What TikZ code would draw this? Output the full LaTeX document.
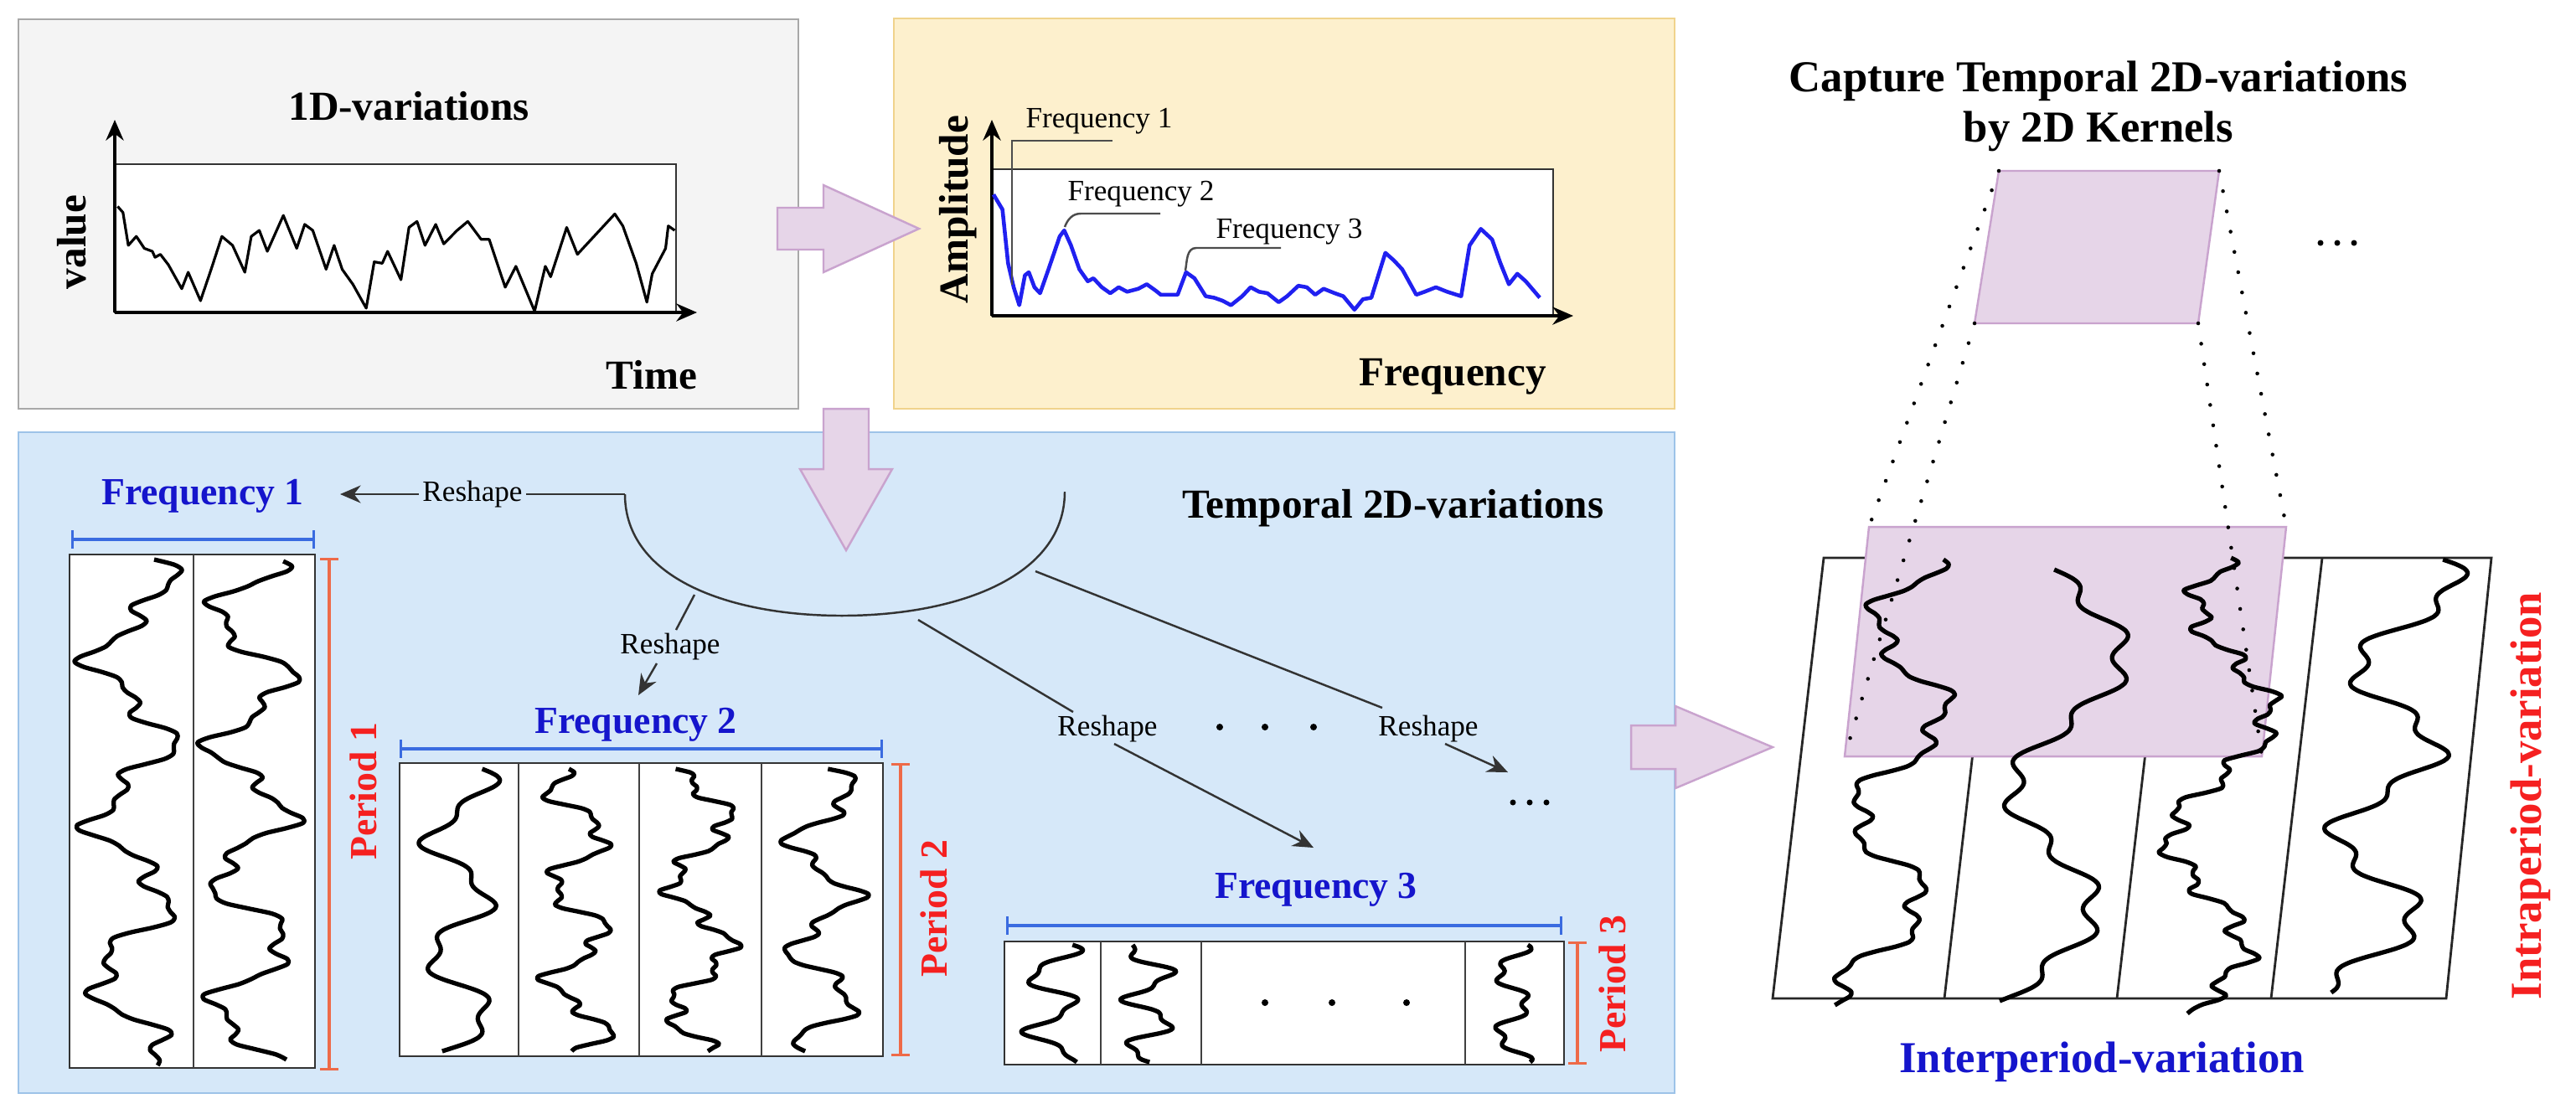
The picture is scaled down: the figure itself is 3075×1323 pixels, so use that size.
\documentclass[tikz,border=0pt]{standalone}
\usepackage{fontspec}
\setmainfont{Liberation Serif}
\usetikzlibrary{arrows.meta}
\definecolor{grayfill}{HTML}{F4F4F4}
\definecolor{grayline}{HTML}{A8A8A8}
\definecolor{yelfill}{HTML}{FDF0CD}
\definecolor{yelline}{HTML}{F0D38C}
\definecolor{bluefill}{HTML}{D6E8F9}
\definecolor{blueline}{HTML}{9DC3E8}
\definecolor{purfill}{HTML}{E6D5E8}
\definecolor{purline}{HTML}{C9A3CE}
\definecolor{txtblue}{HTML}{1515CC}
\definecolor{txtred}{HTML}{F52020}
\definecolor{barblue}{HTML}{3A6BE0}
\definecolor{barred}{HTML}{EE6A48}
\definecolor{curveblue}{HTML}{2020F0}
\tikzset{
  panel/.style={line width=0.7pt},
  frame/.style={draw=black!80,line width=0.8pt,fill=white},
  wave/.style={line width=1.5pt,line join=round,smooth},
  bigarrow/.style={fill=purfill,draw=purline,line width=0.7pt},
  lbl/.style={font=\bfseries,inner sep=0pt},
  small/.style={font=\fontsize{10}{11}\selectfont,inner sep=1pt},
  conn/.style={line width=0.7pt,black!80},
  arr/.style={conn,-{Stealth[length=7pt,width=6pt]}},
  bbar/.style={barblue,line width=0.9pt,{Bar[width=6pt]}-{Bar[width=6pt]}},
  rbar/.style={barred,line width=0.9pt,{Bar[width=6pt]}-{Bar[width=6pt]}},
}
\begin{document}
\begin{tikzpicture}[x=0.01cm,y=-0.01cm]
\useasboundingbox (0,0) rectangle (3075,1323);
% ---------- panels ----------
\draw[panel,fill=grayfill,draw=grayline] (22,23) rectangle (953,488);
\draw[panel,fill=yelfill,draw=yelline] (1067,22) rectangle (1999,488);
\draw[panel,fill=bluefill,draw=blueline] (22,516) rectangle (1999,1305);
% ---------- big arrows ----------
\draw[bigarrow] (928,248) -- (983,248) -- (983,221) -- (1097,273) -- (983,325) -- (983,298) -- (928,298) -- cycle;
\draw[bigarrow] (983,488) -- (1037,488) -- (1037,560) -- (1065,560) -- (1010,657) -- (955,560) -- (983,560) -- cycle;
\draw[bigarrow] (1947,866) -- (2000,866) -- (2000,843) -- (2116,892) -- (2000,941) -- (2000,918) -- (1947,918) -- cycle;
% ---------- 1D variations ----------
\node[lbl,font=\bfseries\fontsize{14}{16}\selectfont] (t1d) at (488,127) {1D-variations};
\draw[frame] (137,196) rectangle (807,373);
\coordinate (o1) at (137,373);
\coordinate (y1) at (137,143);
\coordinate (x1) at (832,373);
\draw[line width=1.1pt,-{Stealth[length=7pt,width=6pt]}] (o1) -- (y1);
\draw[line width=1.1pt,-{Stealth[length=7pt,width=6pt]}] (o1) -- (x1);
\node[lbl,rotate=90,font=\bfseries\fontsize{14}{16}\selectfont] (val) at (86,289) {value};
\node[lbl,font=\bfseries\fontsize{14}{16}\selectfont] (time) at (778,448) {Time};
\begin{scope}[x=0.006378cm,y=-0.003571cm]
\draw[line width=0.9pt,line join=round] (220,690)--(230,710)--(240,820)--(255,790)--(270,830)--(285,840)--(290,860)--(300,850)--(315,885)--(340,965)--(352,910)--(375,1005)--(395,900)--(415,790)--(435,820)--(458,910)--(470,790)--(485,770)--(500,840)--(530,720)--(555,830)--(570,750)--(585,770)--(610,900)--(625,820)--(640,900)--(660,950)--(685,1030)--(700,875)--(715,880)--(725,840)--(750,935)--(765,760)--(780,740)--(795,820)--(815,750)--(830,815)--(855,770)--(875,740)--(900,800)--(915,800)--(945,960)--(965,890)--(1000,1040)--(1020,890)--(1030,925)--(1060,760)--(1080,850)--(1150,715)--(1165,755)--(1190,880)--(1210,1010)--(1220,915)--(1245,830)--(1250,755)--(1262,770);
\end{scope}
% ---------- Frequency spectrum ----------
\draw[frame] (1184,202) rectangle (1854,377);
\coordinate (o2) at (1184,377);
\coordinate (y2) at (1184,143);
\coordinate (x2) at (1878,377);
\draw[line width=1.1pt,-{Stealth[length=7pt,width=6pt]}] (o2) -- (y2);
\draw[line width=1.1pt,-{Stealth[length=7pt,width=6pt]}] (o2) -- (x2);
\node[lbl,rotate=90,font=\bfseries\fontsize{14}{16}\selectfont] (amp) at (1144,250) {Amplitude};
\node[lbl,font=\bfseries\fontsize{14}{16}\selectfont] (freq) at (1734,450) {Frequency};
\begin{scope}[shift={(950,0)},x=0.006697cm,y=-0.003571cm]
\draw[curveblue,line width=1.3pt,line join=round] (352,650)--(368,700)--(378,880)--(388,960)--(398,1020)--(408,920)--(415,910)--(425,960)--(435,980)--(450,900)--(470,790)--(478,770)--(490,820)--(505,900)--(520,940)--(530,930)--(545,960)--(560,980)--(575,960)--(590,975)--(610,965)--(625,950)--(640,970)--(650,985)--(680,985)--(695,910)--(710,930)--(730,990)--(745,995)--(760,1005)--(775,1020)--(795,990)--(810,960)--(825,975)--(840,980)--(860,1010)--(875,990)--(895,955)--(910,960)--(925,985)--(940,965)--(960,980)--(975,990)--(995,1035)--(1010,1000)--(1025,995)--(1050,845)--(1065,870)--(1080,900)--(1105,985)--(1120,975)--(1140,960)--(1160,975)--(1185,990)--(1200,820)--(1220,765)--(1240,800)--(1255,880)--(1270,950)--(1285,915)--(1300,940)--(1325,995);
\end{scope}
\node[small] (f1) at (1312,145) {Frequency 1};
\node[small] (f2) at (1362,232) {Frequency 2};
\node[small] (f3) at (1539,277) {Frequency 3};
\coordinate (f1a) at (1208,340);
\coordinate (f1b) at (1208,168);
\coordinate (f1c) at (1328,168);
\draw[conn,black!70] (f1a) -- (f1b) -- (f1c);
\coordinate (f2a) at (1271,271);
\coordinate (f2b) at (1290,255);
\coordinate (f2c) at (1385,255);
\draw[conn,black!70] (f2a) to[out=70,in=180] (f2b) -- (f2c);
\coordinate (f3a) at (1415,323);
\coordinate (f3b) at (1428,296);
\coordinate (f3c) at (1529,296);
\draw[conn,black!70] (f3a) to[out=80,in=180] (f3b) -- (f3c);
% ---------- Temporal 2D variations ----------
\node[lbl,font=\bfseries\fontsize{14}{16}\selectfont] (t2d) at (1663,607) {Temporal 2D-variations};
\coordinate (arcL) at (746,590);
\coordinate (arcB) at (1005,735);
\coordinate (arcR) at (1271,587);
\draw[conn] (arcL) .. controls (746,690) and (870,735) .. (arcB) .. controls (1140,735) and (1271,690) .. (arcR);
% reshape 1
\node[small] (r1) at (564,590) {Reshape};
\coordinate (r1t) at (406,590);
\draw[conn] (arcL) -- (r1.east);
\draw[arr] (r1.west) -- (r1t);
% reshape 2
\coordinate (r2s) at (829,710);
\node[small] (r2) at (800,772) {Reshape};
\coordinate (r2t) at (762,830);
\draw[conn] (r2s) -- (807,752);
\draw[arr] (784,792) -- (r2t);
% reshape 3
\coordinate (r3s) at (1096,740);
\node[small] (r3) at (1322,870) {Reshape};
\coordinate (r3t) at (1568,1012);
\draw[conn] (r3s) -- (1281,850);
\draw[arr] (1330,888) -- (r3t);
% reshape 4
\coordinate (r4s) at (1236,682);
\node[small] (r4) at (1705,870) {Reshape};
\coordinate (r4t) at (1800,922);
\draw[conn] (r4s) -- (1650,845);
\draw[arr] (1725,888) -- (r4t);
\foreach \x in {1456,1510,1568} \fill (\x,868) circle (4);
\foreach \x in {1806,1826,1846} \fill (\x,958) circle (3.5);
% Frequency 1 block
\node[lbl,txtblue,font=\bfseries\fontsize{13}{15}\selectfont] (F1) at (242,592) {Frequency 1};
\draw[bbar] (85,644) -- (376,644);
\draw[frame] (83,662) rectangle (376,1275);
\draw[black!75,line width=0.7pt] (231,662) -- (231,1275);
\draw[rbar] (393,666) -- (393,1278);
\node[lbl,txtred,rotate=90,font=\bfseries\fontsize{13}{15}\selectfont] (P1) at (434,945) {Period 1};
\draw[wave] plot[samples=100,variable=\t,domain=0:604] ({157+42*sin(\t*1.9+40)+18*sin(\t*5.3)+9*sin(\t*11)},668+\t);
\draw[wave] plot[samples=100,variable=\t,domain=0:595] ({300+44*sin(\t*2.3+120)+17*sin(\t*6.1)+7*sin(\t*13)},670+\t);
% Frequency 2 block
\node[lbl,txtblue,font=\bfseries\fontsize{13}{15}\selectfont] (F2) at (759,865) {Frequency 2};
\draw[bbar] (477,894) -- (1054,894);
\draw[frame] (477,911) rectangle (1054,1261);
\foreach \x in {619,763,909} \draw[black!75,line width=0.7pt] (\x,911) -- (\x,1261);
\draw[rbar] (1075,911) -- (1075,1261);
\node[lbl,txtred,rotate=90,font=\bfseries\fontsize{13}{15}\selectfont] (P2) at (1115,1085) {Period 2};
\draw[wave] plot[samples=80,variable=\t,domain=0:337] ({548+36*sin(\t*2.6+50)+13*sin(\t*7)},918+\t);
\draw[wave] plot[samples=80,variable=\t,domain=0:337] ({690+32*sin(\t*3.1+200)+13*sin(\t*8.3)+6*sin(\t*17)},918+\t);
\draw[wave] plot[samples=80,variable=\t,domain=0:337] ({836+34*sin(\t*2.4+300)+13*sin(\t*9.1)+6*sin(\t*19)},918+\t);
\draw[wave] plot[samples=80,variable=\t,domain=0:337] ({982+36*sin(\t*2.9+10)+14*sin(\t*7.7)+6*sin(\t*15)},918+\t);
% Frequency 3 block
\node[lbl,txtblue,font=\bfseries\fontsize{13}{15}\selectfont] (F3) at (1571,1062) {Frequency 3};
\draw[bbar] (1201,1105) -- (1865,1105);
\draw[frame] (1199,1124) rectangle (1867,1271);
\foreach \x in {1314,1434,1749} \draw[black!75,line width=0.7pt] (\x,1124) -- (\x,1271);
\draw[rbar] (1883,1124) -- (1883,1271);
\node[lbl,txtred,rotate=90,font=\bfseries\fontsize{13}{15}\selectfont] (P3) at (1925,1175) {Period 3};
\foreach \x in {1510,1590,1679} \fill (\x,1197) circle (4);
\draw[wave] plot[samples=50,variable=\t,domain=0:140] ({1256+28*sin(\t*5.5+60)+9*sin(\t*13)},1128+\t);
\draw[wave] plot[samples=50,variable=\t,domain=0:140] ({1372+26*sin(\t*6.2+230)+9*sin(\t*15)},1128+\t);
\draw[wave] plot[samples=50,variable=\t,domain=0:140] ({1806+18*sin(\t*5+100)+8*sin(\t*14)},1128+\t);
% ---------- right part ----------
\node[lbl,font=\bfseries\fontsize{15}{17}\selectfont,align=center] (cap) at (2505,127) {Capture Temporal 2D-variations\\by 2D Kernels};
\foreach \x in {2770,2790,2810} \fill (\x,290) circle (3.5);
\coordinate (pTL) at (2177,666);
\coordinate (pTR) at (2974,666);
\coordinate (pBR) at (2920,1192);
\coordinate (pBL) at (2116,1192);
\draw[black!85,line width=0.8pt] (pTL) -- (pTR) -- (pBR) -- (pBL) -- cycle;
\foreach \x in {2321,2527,2711} \draw[black!85,line width=0.8pt] (\x,1192) -- (\x+61,666);
\coordinate (kTL) at (2386,204);
\coordinate (kTR) at (2649,204);
\coordinate (kBR) at (2624,386);
\coordinate (kBL) at (2357,386);
\coordinate (bTL) at (2231,629);
\coordinate (bTR) at (2729,629);
\coordinate (bBR) at (2700,903);
\coordinate (bBL) at (2202,903);
\draw[fill=purfill,draw=purline,line width=0.7pt] (bTL) -- (bTR) -- (bBR) -- (bBL) -- cycle;
\draw[fill=purfill,draw=purline,line width=0.7pt] (kTL) -- (kTR) -- (kBR) -- (kBL) -- cycle;
\foreach \a/\b in {kTL/bTL,kBL/bBL,kTR/bTR,kBR/bBR} \draw[line width=1.3pt,dash pattern=on 0pt off 7pt,line cap=round] (\a) -- (\b);
\draw[wave] plot[samples=100,variable=\t,domain=0:532] ({2235+0.116*(524-\t)+48*sin(\t*1.6+150)+16*sin(\t*5)+7*sin(\t*12)},668+\t);
\draw[wave] plot[samples=100,variable=\t,domain=0:515] ({2430+0.116*(512-\t)+58*sin(\t*1.2+320)+14*sin(\t*6)},680+\t);
\draw[wave] plot[samples=100,variable=\t,domain=0:544] ({2620+0.116*(526-\t)+52*sin(\t*1.3+200)+14*sin(\t*7)+7*sin(\t*16)},666+\t);
\draw[wave] plot[samples=100,variable=\t,domain=0:517] ({2820+0.116*(524-\t)+55*sin(\t*1.8+40)+16*sin(\t*6.5)},668+\t);
\node[lbl,txtblue,font=\bfseries\fontsize{15}{17}\selectfont] (inter) at (2509,1268) {Interperiod-variation};
\node[lbl,txtred,rotate=90,font=\bfseries\fontsize{15}{17}\selectfont] (intra) at (3021,950) {Intraperiod-variation};
\end{tikzpicture}
\end{document}
